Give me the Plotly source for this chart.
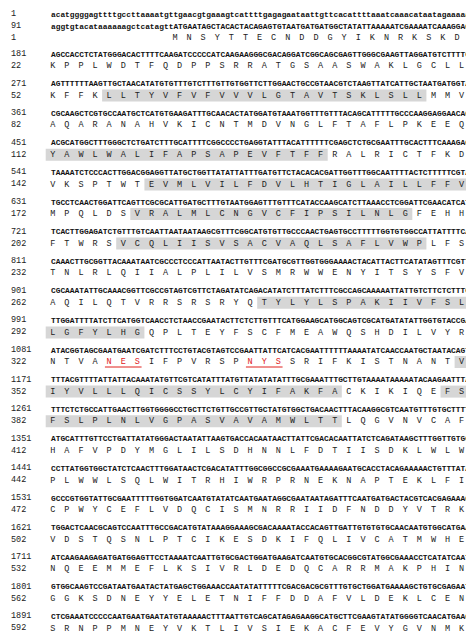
import plotly.graph_objects as go

# nucleotide rows: (start number, sequence)
dna_numbers = [1, 91, 181, 271, 361, 451, 541, 631, 721, 811, 901, 991, 1081,
               1171, 1261, 1351, 1441, 1531, 1621, 1711, 1801, 1891]
dna_rows = [
    "acatggggagttttgccttaaaatgttgaacgtgaaagtcattttgagagaataattgttcacattttaaatcaaacataatagaaaaat",
    "aggtgtacataaaaaagctcatagttATGAATAGCTACACTACAGAGTGTAATGATGATGGCTATATTAAAAATCGAAAATCAAAGGACA",
    "AGCCACCTCTATGGGACACTTTTCAAGATCCCCCATCAAGAAGGGCGACAGGATCGGCAGCGAGTTGGGCGAAGTTAGGATGTCTTTTGA",
    "AGTTTTTTAAGTTGCTAACATATGTGTTTGTCTTTGTTGTGGTTCTTGGAACTGCCGTAACGTCTAAGTTATCATTGCTAATGATGGTAG",
    "CGCAAGCTCGTGCCAATGCTCATGTGAAGATTTGCAACACTATGGATGTAAATGGTTTGTTTACAGCATTTTTGCCCAAGGAGGAACAGT",
    "ACGCATGGCTTTGGGCTCTGATCTTTGCATTTTCGGCCCCTGAGGTATTTACATTTTTTCGAGCTCTGCGAATTTGCACTTTCAAAGACG",
    "TAAAATCTCCCACTTGGACGGAGGTTATGCTGGTTATATTATTTGATGTTCTACACACGATTGGTTTGGCAATTTTACTCTTTTTCGTAA",
    "TGCCTCAACTGGATTCAGTTCGCGCATTGATGCTTTGTAATGGAGTTTGTTTCATACCAAGCATCTTAAACCTCGGATTCGAACATCATT",
    "TCACTTGGAGATCTGTTTGTCAATTAATAATAAGCGTTTCGGCATGTGTTGCCCAACTGAGTGCCTTTTTGGTGTGGCCATTATTTTCAA",
    "CAAACTTGCGGTTACAAATAATCGCCCTCCCATTAATACTTGTTTCGATGCGTTGGTGGGAAAACTACATTACTTCATATAGTTTCGTTG",
    "CGCAAATATTGCAAACGGTTCGCCGTAGTCGTTCTAGATATCAGACATATCTTTATCTTTCGCCAGCAAAAATTATTGTCTTCTCTTTGC",
    "TTGGATTTTATCTTCATGGTCAACCTCTAACCGAATACTTCTCTTGTTTCATGGAAGCATGGCAGTCGCATGATATATTGGTGTACCGAA",
    "ATACGGTAGCGAATGAATCGATCTTTCCTGTACGTAGTCCGAATTATTCATCACGAATTTTTTAAAATATCAACCAATGCTAATACAGTTA",
    "TTTACGTTTTATTATTACAAATATGTTCGTCATATTTATGTTATATATATTTGCGAAATTTGCTTGTAAAATAAAAATACAAGAATTTAGTT",
    "TTTCTCTGCCATTGAACTTGGTGGGGCCTGCTTCTGTTGCCGTTGCTATGTGGCTGACAACTTTACAAGGCGTCAATGTTTGTGCTTTTC",
    "ATGCATTTGTTCCTGATTATATGGGACTAATATTAAGTGACCACAATAACTTATTCGACACAATTATCTCAGATAAGCTTTGGTTGTGGC",
    "CCTTATGGTGGCTATCTCAACTTTGGATAACTCGACATATTTGGCGGCCGCGAAATGAAAAGAATGCACCTACAGAAAAACTGTTTATAT",
    "GCCCGTGGTATTGCGAATTTTTGGTGGATCAATGTATATCAATGAATAGGCGAATAATAGATTTCAATGATGACTACGTCACGAGAAAGG",
    "TGGACTCAACGCAGTCCAATTTGCCGACATGTATAAAGGAAAGCGACAAAATACCACAGTTGATTGTGTGTGCAACAATGTGGCATGAAA",
    "ATCAAGAAGAGATGATGGAGTTCCTAAAATCAATTGTGCGACTGGATGAAGATCAATGTGCACGGCGTATGGCGAAACCTCATATCAATG",
    "GTGGCAAGTCCGATAATGAATACTATGAGCTGGAAACCAATATATTTTTCGACGACGCGTTTGTGCTGGATGAAAAGCTGTGCGAGAATT",
    "CTCGAAATCCCCCAATGAATGAATATGTAAAAACTTTAATTGTCAGCATAGAGAAGGCATGCTTCGAAGTATATGGGGTCAACATGAAGA",
]

# protein rows: (start number, residues)
prot_numbers = [1, 22, 52, 82, 112, 142, 172, 202, 232, 262, 292, 322, 352,
                382, 412, 442, 472, 502, 532, 562, 592]
prot_rows = [
    "MNSYTTECNDDGYIKNRKSKD",
    "KPPLWDTFQDPPSRRATGSAASWAKLGCLL",
    "KFFKLLTYVFVFVVVLGTAVTSKLSLLMMV",
    "AQARANAHVKICNTMDVNGLFTAFLPKEEQ",
    "YAWLWALIFAPSAPEVFTFFRALRICTFKD",
    "VKSPTWTEVMLVILFDVLHTIGLAILLFFV",
    "MPQLDSVRALMLCNGVCFIPSILNLGFEHH",
    "FTWRSVCQLIISVSACVAQLSAFLVWPLFS",
    "TNLRLQIIALPLILVSMRWWENYITSYSFV",
    "AQILQTVRRSRSRYQTYLYLSPAKIIVFSL",
    "LGFYLHGQPLTEYFSCFMEAWQSHDILVYR",
    "NTVANESIFPVRSPNYSSRIFKISTNANTV",
    "IYVLLLQICSSYLCYIFAKFACKIKIQEFS",
    "FSLPLNLVGPASVAVAMWLTTLQGVNVCAF",
    "HAFVPDYMGLILSDHNNLFDTIISDKLWLW",
    "PLWWLSQLWITRHIWRPRNEKNAPTEKLFI",
    "CPWYCEFLVDQCISMNRRIIDFNDDYVTRK",
    "VDSTQSNLPTCIKESDKIFQLIVCATMWHE",
    "NQEEMMEFLKSIVRLDEDQCARRMAKPHIN",
    "GGKSDNEYYELETNIFFDDAFVLDEKLCEN",
    "SRNPPMNEYVKTLIVSIEKACFEVYGVNMK",
]

# shaded (transmembrane) residue ranges: (protein row index, first, last)
shaded = [(2, 4, 26), (4, 0, 19), (5, 7, 29), (6, 6, 25), (7, 5, 26),
          (9, 15, 29), (10, 0, 6), (11, 29, 29), (12, 0, 20), (12, 28, 29),
          (13, 0, 20)]
# red underlined motifs: (protein row index, first, last)
motifs = [(11, 4, 6), (11, 14, 16)]

CHAR_W = 4.7
SHIFT = 8         # horizontal page offset of the figure
X0 = 49 - SHIFT   # left edge of sequence column in figure pixels
PITCH = 29.6      # vertical distance between blocks
FONT = "Liberation Mono"
NUM_X = (1 - X0) / CHAR_W - 0.5   # line numbers at figure px 1


def dna_y(i):
    return 6 + 12 * i if i < 2 else 46 + PITCH * (i - 2)


def prot_y(i):
    return 30 if i == 0 else 58 + PITCH * (i - 1)


fig = go.Figure()
shapes = []
annotations = []

for i, (num, seq) in enumerate(zip(dna_numbers, dna_rows)):
    y = dna_y(i)
    annotations.append(dict(x=NUM_X, y=y, text=str(num), xanchor="left",
                            showarrow=False, font=dict(family=FONT, size=8.5, color="#222")))
    annotations.append(dict(x=-0.5, y=y, text="<b>%s</b>" % seq, xanchor="left",
                            showarrow=False, font=dict(family=FONT, size=7.85, color="#111")))

for i, (num, res) in enumerate(zip(prot_numbers, prot_rows)):
    y = prot_y(i)
    offset = 26 if i == 0 else 0
    annotations.append(dict(x=NUM_X, y=y, text=str(num), xanchor="left",
                            showarrow=False, font=dict(family=FONT, size=8.5, color="#222")))
    colors = ["#222"] * len(res)
    for r, a, b in motifs:
        if r == i:
            for j in range(a, b + 1):
                colors[j] = "#e0201c"
    fig.add_trace(go.Scatter(
        x=[offset + 3 * j + 0.3 for j in range(len(res))], y=[y] * len(res),
        mode="text", text=list(res), hoverinfo="skip", cliponaxis=False,
        textfont=dict(family=FONT, size=8.5, color=colors),
    ))

for r, a, b in shaded:
    y = prot_y(r)
    shapes.append(dict(type="rect", xref="x", yref="y", layer="below",
                       x0=3 * a - 1.2, x1=3 * b + 1.8, y0=y - 6, y1=y + 6,
                       fillcolor="#d6d6d6", line=dict(width=0)))

for r, a, b in motifs:
    y = prot_y(r)
    shapes.append(dict(type="line", xref="x", yref="y",
                       x0=3 * a - 0.6, x1=3 * b + 1.2, y0=y + 5, y1=y + 5,
                       line=dict(color="#e0201c", width=1)))

fig.update_layout(
    width=474, height=633,
    margin=dict(l=0, r=0, t=0, b=0),
    paper_bgcolor="white", plot_bgcolor="white",
    showlegend=False,
    xaxis=dict(range=[-X0 / CHAR_W - 0.5, (474 - X0) / CHAR_W - 0.5], visible=False, fixedrange=True),
    yaxis=dict(range=[633, 0], visible=False, fixedrange=True),
    shapes=shapes, annotations=annotations,
)

fig.write_html("out.html")
